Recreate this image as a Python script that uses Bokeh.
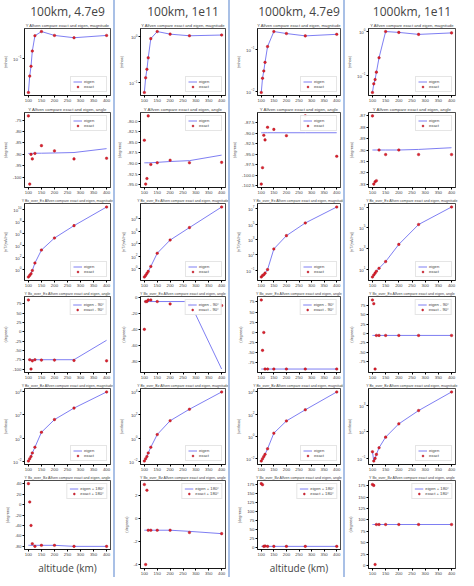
import numpy as np
from bokeh.plotting import figure
from bokeh.layouts import row, column
from bokeh.models import (Title, FixedTicker, Legend, LegendItem, Range1d,
                          NumeralTickFormatter, Spacer)
from bokeh.embed import file_html
from bokeh.resources import INLINE

# ---------------- data ----------------
alt = [100, 105, 110, 115, 125, 150, 200, 275, 400]
headers = ["100km, 4.7e9", "100km, 1e11", "1000km, 4.7e9", "1000km, 1e11"]
row_titles = [
    "Y Alfven compare exact and eigen, magnitude",
    "Y Alfven compare exact and eigen, angle",
    "Y Bx_over_Ex Alfven compare exact and eigen, magnitude",
    "Y Bx_over_Ex Alfven compare exact and eigen, angle",
    "Y Bx_over_Bz Alfven compare exact and eigen, magnitude",
    "Y Bx_over_Bz Alfven compare exact and eigen, angle",
]
row_ylabels = ["(mhos)", "(degrees)", "(nT/(mV/m))", "(degrees)", "(unitless)", "(degrees)"]

# Row 1: Y Alfven magnitude
ya_mag_1 = [0.033, 0.056, 0.077, 0.126, 0.207, 0.237, 0.209, 0.194, 0.209]
ya_mag_2 = [0.062, 0.129, 0.198, 0.352, 0.918, 1.31, 1.15, 1.06, 1.10]
ya_mag_3 = [0.0093, 0.0204, 0.0304, 0.049, 0.117, 0.268, 0.24, 0.211, 0.23]
ya_mag_4 = [0.04, 0.063, 0.079, 0.117, 0.25, 1.0, 0.955, 0.86, 0.93]

# Row 2: Y Alfven angle
ya_ang_exact_1 = [-73.2, -103.0, -90.0, -92.0, -89.6, -86.2, -88.5, -92.0, -91.7]
ya_ang_eigen_1 = [-89.6, -89.6, -89.6, -89.6, -89.5, -89.5, -89.4, -89.2, -87.5]
ya_ang_exact_2 = [-84.5, -94.8, -93.5, -78.8, -90.2, -89.8, -89.2, -89.8, -89.7]
ya_ang_eigen_2 = [-89.8, -89.8, -89.8, -89.8, -89.8, -89.7, -89.5, -89.3, -88.0]
ya_ang_exact_3 = [-102.1, -98.2, -90.5, -91.6, -88.6, -89.1, -90.6, -85.9, -95.5]
ya_ang_eigen_3 = [-89.9, -89.9, -89.9, -89.9, -89.9, -89.9, -89.9, -89.9, -89.9]
ya_ang_exact_4 = [-87.0, -93.0, -92.8, -92.7, -90.0, -90.4, -90.0, -90.4, -90.4]
ya_ang_eigen_4 = [-90.0, -90.0, -90.0, -90.0, -90.0, -90.0, -90.0, -89.95, -89.8]

# Row 3: Bx_over_Ex magnitude
bxex_mag_1 = [10**-1.24, 10**-0.97, 10**-0.7, 10**-0.16, 10**1.08, 10**3.24, 10**5.24, 10**7.3, 10**10.4]
bxex_mag_2 = [10**-1.32, 10**-1.06, 10**-0.74, 10**-0.42, 10**0.37, 10**2.49, 10**4.6, 10**6.6, 10**9.9]
bxex_mag_3 = [10**-1.88, 10**-1.69, 10**-1.58, 10**-1.38, 10**-0.92, 10**1.77, 10**3.5, 10**5.15, 10**7.23]
bxex_mag_4 = [10**0.24, 10**0.44, 10**0.61, 10**0.8, 10**1.08, 10**1.73, 10**3.39, 10**5.31, 10**7.0]

# Row 4: Bx_over_Ex angle (-90)
bxex_ang_exact_1 = [85.0, -75.0, -100.0, -78.0, -75.0, -76.0, -76.0, -77.0, -78.0]
bxex_ang_eigen_1 = [-75.0, -75.0, -75.0, -75.0, -75.0, -75.0, -75.0, -75.0, -23.0]
bxex_ang_exact_2 = [-40.0, -5.0, -5.0, -3.0, -3.0, -5.0, -8.0, -10.0, -10.0]
bxex_ang_eigen_2 = [-5.0, -5.0, -5.0, -5.0, -5.0, -5.0, -5.0, -5.0, -90.0]
bxex_ang_exact_3 = [80.0, -44.0, 0.0, -90.0, -90.0, -90.0, -90.0, -90.0, -90.0]
bxex_ang_eigen_3 = [-90.0, -90.0, -90.0, -90.0, -90.0, -90.0, -90.0, -90.0, -90.0]
bxex_ang_exact_4 = [90.0, 80.0, -95.0, -5.0, -5.0, -5.0, -5.0, -5.0, -5.0]
bxex_ang_eigen_4 = [-5.0, -5.0, -5.0, -5.0, -5.0, -5.0, -5.0, -5.0, -5.0]

# Row 5: Bx_over_Bz magnitude
bxbz_mag_1 = [10**-2.0, 10**-1.8, 10**-1.6, 10**-1.3, 10**-0.8, 10**0.5, 10**1.6, 10**2.6, 10**4.0]
bxbz_mag_2 = [10**-2.0, 10**-1.8, 10**-1.6, 10**-1.3, 10**-0.8, 10**0.3, 10**1.5, 10**2.5, 10**4.0]
bxbz_mag_3 = [10**-2.2, 10**-2.0, 10**-1.8, 10**-1.6, 10**-1.1, 10**0.3, 10**1.4, 10**2.4, 10**4.0]
bxbz_mag_4 = [10**-0.5, 10**-1.2, 10**-1.0, 10**-0.7, 10**-0.2, 10**0.6, 10**1.6, 10**2.6, 10**4.0]

# Row 6: Bx_over_Bz angle (+180)
bxbz_ang_exact_1 = [40.0, 5.0, -40.0, -75.0, -80.0, -78.0, -78.0, -80.0, -80.0]
bxbz_ang_eigen_1 = [-78.0, -78.0, -78.0, -78.0, -78.0, -78.0, -78.0, -80.0, -80.0]
bxbz_ang_exact_2 = [3.0, -4.0, 2.5, -1.0, -1.0, -1.0, -1.0, -1.2, -1.3]
bxbz_ang_eigen_2 = [-1.0, -1.0, -1.0, -1.0, -1.0, -1.0, -1.0, -1.1, -1.3]
bxbz_ang_exact_3 = [178.0, 175.0, 2.0, 3.0, 2.0, 2.0, 2.0, 2.0, 2.0]
bxbz_ang_eigen_3 = [2.0, 2.0, 2.0, 2.0, 2.0, 2.0, 2.0, 2.0, 2.0]
bxbz_ang_exact_4 = [178.0, 176.0, 2.0, 90.0, 90.0, 90.0, 90.0, 90.0, 90.0]
bxbz_ang_eigen_4 = [90.0, 90.0, 90.0, 90.0, 90.0, 90.0, 90.0, 90.0, 90.0]

xticks = [100, 150, 200, 250, 300, 350, 400]

panels = [
    [(ya_mag_1, ya_mag_1, True, [0.1], None, "bottom_right", ("eigen", "exact")),
     (ya_mag_2, ya_mag_2, True, [0.1, 1.0], None, "bottom_right", ("eigen", "exact")),
     (ya_mag_3, ya_mag_3, True, [0.01, 0.1], None, "bottom_right", ("eigen", "exact")),
     (ya_mag_4, ya_mag_4, True, [0.1, 1.0], None, "bottom_right", ("eigen", "exact"))],
    [(ya_ang_eigen_1, ya_ang_exact_1, False, [-75, -80, -85, -90, -95, -100, -105], "0", "top_right", ("eigen", "exact")),
     (ya_ang_eigen_2, ya_ang_exact_2, False, [-80, -82.5, -85, -87.5, -90, -92.5, -95], "0.0", "top_right", ("eigen", "exact")),
     (ya_ang_eigen_3, ya_ang_exact_3, False, [-85, -87.5, -90, -92.5, -95, -97.5, -100, -102.5], "0.0", "top_right", ("eigen", "exact")),
     (ya_ang_eigen_4, ya_ang_exact_4, False, [-87, -88, -89, -90, -91, -92, -93], "0", "top_right", ("eigen", "exact"))],
    [(bxex_mag_1, bxex_mag_1, True, [1, 1e2, 1e4, 1e6, 1e8, 1e10], None, "bottom_right", ("eigen", "exact")),
     (bxex_mag_2, bxex_mag_2, True, [1, 1e2, 1e4, 1e6, 1e8], None, "bottom_right", ("eigen", "exact")),
     (bxex_mag_3, bxex_mag_3, True, [0.1, 10, 1e3, 1e5, 1e7], None, "bottom_right", ("eigen", "exact")),
     (bxex_mag_4, bxex_mag_4, True, [10, 1e3, 1e5, 1e7], None, "bottom_right", ("eigen", "exact"))],
    [(bxex_ang_eigen_1, bxex_ang_exact_1, False, [75, 50, 25, 0, -25, -50, -75, -100], "0", "top_right", ("eigen - 90°", "exact - 90°")),
     (bxex_ang_eigen_2, bxex_ang_exact_2, False, [0, -20, -40, -60, -80], "0", "top_right", ("eigen - 90°", "exact - 90°")),
     (bxex_ang_eigen_3, bxex_ang_exact_3, False, [75, 50, 25, 0, -25, -50, -75], "0", "top_right", ("eigen - 90°", "exact - 90°")),
     (bxex_ang_eigen_4, bxex_ang_exact_4, False, [75, 50, 25, 0, -25, -50, -75], "0", "top_right", ("eigen - 90°", "exact - 90°"))],
    [(bxbz_mag_1, bxbz_mag_1, True, [0.01, 1, 100, 1e4], None, "bottom_right", ("eigen", "exact")),
     (bxbz_mag_2, bxbz_mag_2, True, [0.01, 1, 100, 1e4], None, "bottom_right", ("eigen", "exact")),
     (bxbz_mag_3, bxbz_mag_3, True, [0.01, 1, 100, 1e4], None, "bottom_right", ("eigen", "exact")),
     (bxbz_mag_4, bxbz_mag_4, True, [0.1, 10, 1000], None, "bottom_right", ("eigen", "exact"))],
    [(bxbz_ang_eigen_1, bxbz_ang_exact_1, False, [40, 20, 0, -20, -40, -60, -80], "0", "top_right", ("eigen + 180°", "exact + 180°")),
     (bxbz_ang_eigen_2, bxbz_ang_exact_2, False, [2, 0, -2, -4], "0", "top_right", ("eigen + 180°", "exact + 180°")),
     (bxbz_ang_eigen_3, bxbz_ang_exact_3, False, [175, 150, 125, 100, 75, 50, 25, 0], "0", "top_right", ("eigen + 180°", "exact + 180°")),
     (bxbz_ang_eigen_4, bxbz_ang_exact_4, False, [175, 150, 125, 100, 75, 50, 25, 0], "0", "top_right", ("eigen + 180°", "exact + 180°"))],
]

COL_W = 113
ROW_H = [104, 92, 93, 92, 92, 104]
BORDER_L = 21
BORDER_R = 3
TITLE_FS = ["4.1px", "4.3px", "3.5px", "3.6px", "3.5px", "3.6px"]
EIG_COLOR = "#6f6ff0"
EXA_COLOR = "#e0202a"
SHIFT = -(BORDER_L - BORDER_R) / 2


def make_panel(r, c):
    eig, exa, log, yticks, fmt, loc, labels = panels[r][c]
    p = figure(width=COL_W, height=ROW_H[r], output_backend="svg", toolbar_location=None,
               y_axis_type="log" if log else "linear", x_range=Range1d(85, 415),
               min_border_left=BORDER_L, min_border_right=BORDER_R,
               min_border_top=2, min_border_bottom=1)
    sub = dict(text=row_titles[r], text_font_size=TITLE_FS[r], text_font_style="normal",
               align="center", standoff=1, offset=SHIFT)
    if r == 0:
        p.title.text = headers[c]
        p.title.text_font_size = "12px"
        p.title.text_font_style = "normal"
        p.title.text_font = "Open Sans"
        p.title.align = "center"
        p.title.offset = SHIFT
        p.title.standoff = 1
        p.add_layout(Title(**sub), "above")
    else:
        p.title.text = row_titles[r]
        p.title.text_font_size = TITLE_FS[r]
        p.title.text_font_style = "normal"
        p.title.align = "center"
        p.title.standoff = 1
        p.title.offset = SHIFT
    p.grid.visible = False
    p.outline_line_color = "black"
    p.outline_line_width = 0.7
    for ax in (p.xaxis[0], p.yaxis[0]):
        ax.major_label_text_font_size = "4.4px"
        ax.major_tick_out = 2
        ax.major_tick_in = 0
        ax.minor_tick_out = 0
        ax.minor_tick_in = 0
        ax.major_label_standoff = 1
        ax.axis_line_color = "black"
        ax.axis_line_width = 0.7
    p.xaxis.ticker = FixedTicker(ticks=xticks)
    p.yaxis.ticker = FixedTicker(ticks=yticks)
    if fmt is not None:
        p.yaxis.formatter = NumeralTickFormatter(format=fmt)
    p.yaxis.axis_label = row_ylabels[r]
    p.yaxis.axis_label_text_font_size = "3.8px"
    p.yaxis.axis_label_text_font_style = "normal"
    p.yaxis.axis_label_standoff = 2
    if r == 5 and c in (0, 2):
        p.xaxis.axis_label = "altitude (km)"
        p.xaxis.axis_label_text_font_size = "10px"
        p.xaxis.axis_label_text_font_style = "normal"
        p.xaxis.axis_label_text_font = "Open Sans"
        p.xaxis.axis_label_standoff = 2
    ln = p.line(alt, eig, line_color=EIG_COLOR, line_width=0.9)
    sc = p.scatter(alt, exa, size=2.6, fill_color=EXA_COLOR, line_color="#a01020", line_width=0.4)
    leg = Legend(items=[LegendItem(label=labels[0], renderers=[ln]),
                        LegendItem(label=labels[1], renderers=[sc])],
                 location=loc, label_text_font_size="4.2px", glyph_height=5, glyph_width=9,
                 label_height=5, label_standoff=2, spacing=0, padding=2, margin=3,
                 border_line_color="#cccccc", border_line_width=0.5)
    p.add_layout(leg)
    return p


cols = []
for c in range(4):
    figs = [make_panel(r, c) for r in range(6)]
    cols.append(column(*figs, spacing=0))
    if c < 3:
        cols.append(Spacer(width=2, height=sum(ROW_H), styles={"background-color": "#a9c0e6"}))

layout = row(*cols, spacing=0)
open("out.html", "w").write(file_html(layout, INLINE))
